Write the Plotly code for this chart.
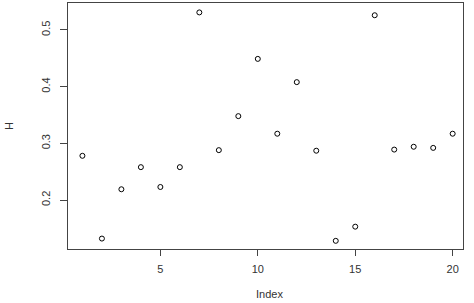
import plotly.graph_objects as go

index = list(range(1, 21))
H = [0.278, 0.132, 0.219, 0.258, 0.223, 0.258, 0.531, 0.288, 0.348, 0.449,
     0.317, 0.408, 0.287, 0.128, 0.153, 0.526, 0.289, 0.294, 0.292, 0.317]
x_ticks = [5, 10, 15, 20]
y_ticks = [0.2, 0.3, 0.4, 0.5]
y_ticklabels = ["0.2", "0.3", "0.4", "0.5"]

axis_color = "#444444"
text_color = "#333333"
font = dict(family="Liberation Sans, Arial, sans-serif", size=11, color=text_color)

fig = go.Figure()
fig.add_trace(go.Scatter(
    x=index, y=H, mode="markers",
    marker=dict(symbol="circle-open", size=5, color="black", line=dict(width=1, color="black")),
    showlegend=False,
))

fig.update_layout(
    width=474, height=303,
    margin=dict(l=68, r=11, t=3, b=54),
    paper_bgcolor="white", plot_bgcolor="white",
    font=font,
    xaxis=dict(
        range=[0.26, 20.53], tickmode="array", tickvals=x_ticks,
        showgrid=False, zeroline=False,
        showline=True, mirror=True, linecolor=axis_color, linewidth=1,
        ticks="outside", ticklen=6, tickcolor=axis_color, tickwidth=1,
        ticklabelstandoff=4,
    ),
    yaxis=dict(
        range=[0.1136, 0.5476], tickmode="array", tickvals=y_ticks, ticktext=y_ticklabels,
        showgrid=False, zeroline=False,
        showline=True, mirror=True, linecolor=axis_color, linewidth=1,
        ticks="outside", ticklen=7, tickcolor=axis_color, tickwidth=1,
        tickangle=-90, ticklabelstandoff=6,
    ),
    annotations=[
        dict(text="Index", x=0.51, y=0, xref="paper", yref="paper",
             xanchor="center", yanchor="middle", yshift=-45, showarrow=False, font=font),
        dict(text="H", x=0, y=0.5, xref="paper", yref="paper", textangle=-90,
             xanchor="center", yanchor="middle", xshift=-59, showarrow=False, font=font),
    ],
)

fig.write_html("out.html")
